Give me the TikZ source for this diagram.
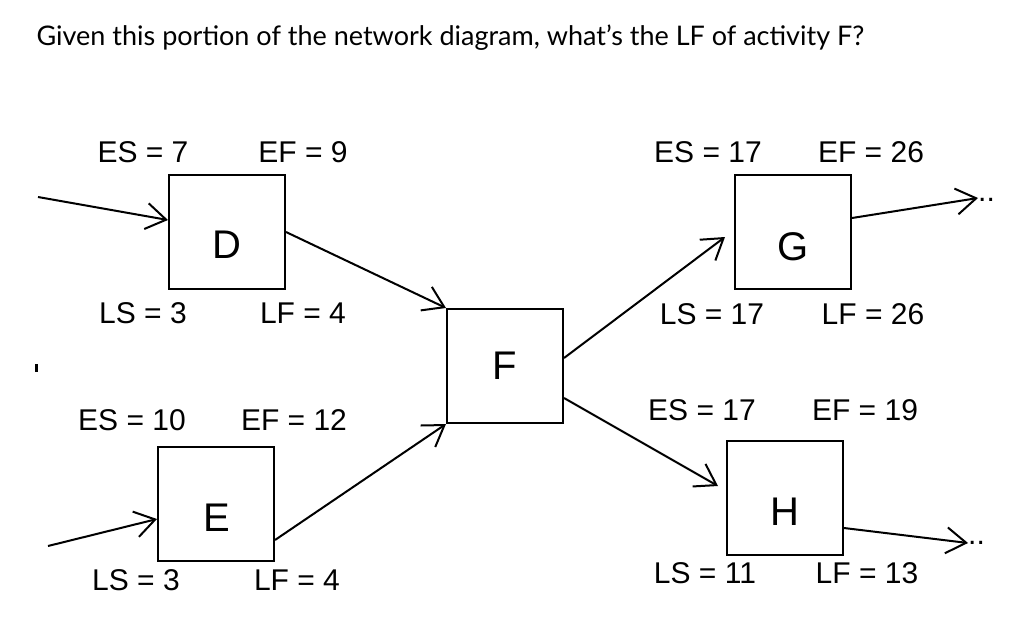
\documentclass[tikz,border=0pt]{standalone}
\usepackage{fontspec}
\setmainfont{Liberation Sans}
\newfontfamily\titlefont{Lato}
\usetikzlibrary{arrows.meta}
\begin{document}
\begin{tikzpicture}[x=1pt,y=-1pt,
  box/.style={draw,line width=2pt,minimum width=116pt,minimum height=114pt,inner sep=0pt},
  letter/.style={font=\fontsize{40}{44}\selectfont,inner sep=0pt},
  lab/.style={font=\fontsize{30}{33}\selectfont,inner sep=0pt},
  arr/.style={line width=2pt,-{Straight Barb[length=20pt,width=26pt,line width=2pt]}}]
\useasboundingbox (0,0) rectangle (1024,630);
\node[anchor=west,font=\titlefont\fontsize{27}{30}\selectfont] (title) at (33,38) {Given this portion of the network diagram, what’s the LF of activity F?};
\node[box] (D) at (227,232) {};
\node[box] (E) at (216,504) {};
\node[box] (F) at (505,366) {};
\node[box] (G) at (793,232) {};
\node[box] (H) at (785,498) {};
\node[letter] (Dl) at (227,245) {D};
\node[letter] (El) at (217,518) {E};
\node[letter] (Fl) at (505,366) {F};
\node[letter] (Gl) at (793,247) {G};
\node[letter] (Hl) at (785,512) {H};
\node[lab] (d1) at (143,152) {ES = 7};
\node[lab] (d2) at (303,152) {EF = 9};
\node[lab] (d3) at (143,313) {LS = 3};
\node[lab] (d4) at (303,313) {LF = 4};
\node[lab] (e1) at (132,420) {ES = 10};
\node[lab] (e2) at (294,420) {EF = 12};
\node[lab] (e3) at (136,580) {LS = 3};
\node[lab] (e4) at (297,580) {LF = 4};
\node[lab] (g1) at (708,152) {ES = 17};
\node[lab] (g2) at (871,152) {EF = 26};
\node[lab] (g3) at (712,314) {LS = 17};
\node[lab] (g4) at (873,314) {LF = 26};
\node[lab] (h1) at (702,410) {ES = 17};
\node[lab] (h2) at (865,410) {EF = 19};
\node[lab] (h3) at (705,573) {LS = 11};
\node[lab] (h4) at (867,573) {LF = 13};
\coordinate (din) at (38,197);
\coordinate (ein) at (48,546);
\coordinate (gout) at (978,198);
\coordinate (hout) at (968,543);
\coordinate (gin) at (725,237);
\coordinate (hin) at (718,486);
\draw[arr] (din) -- (D.west|-0,220);
\draw[arr] (D.east|-0,232) -- (F.north west);
\draw[arr] (ein) -- (E.west|-0,519);
\draw[arr] (E.east|-0,540) -- (F.south west);
\draw[arr] (F.east|-0,358) -- (gin);
\draw[arr] (F.east|-0,398) -- (hin);
\draw[arr] (G.east|-0,218) -- (gout);
\draw[arr] (H.east|-0,528) -- (hout);
\node[lab,anchor=west] (gd) at (978,200) {..};
\node[lab,anchor=west] (hd) at (968,543) {..};
\fill (35,364) rectangle (38,372);
\end{tikzpicture}
\end{document}
